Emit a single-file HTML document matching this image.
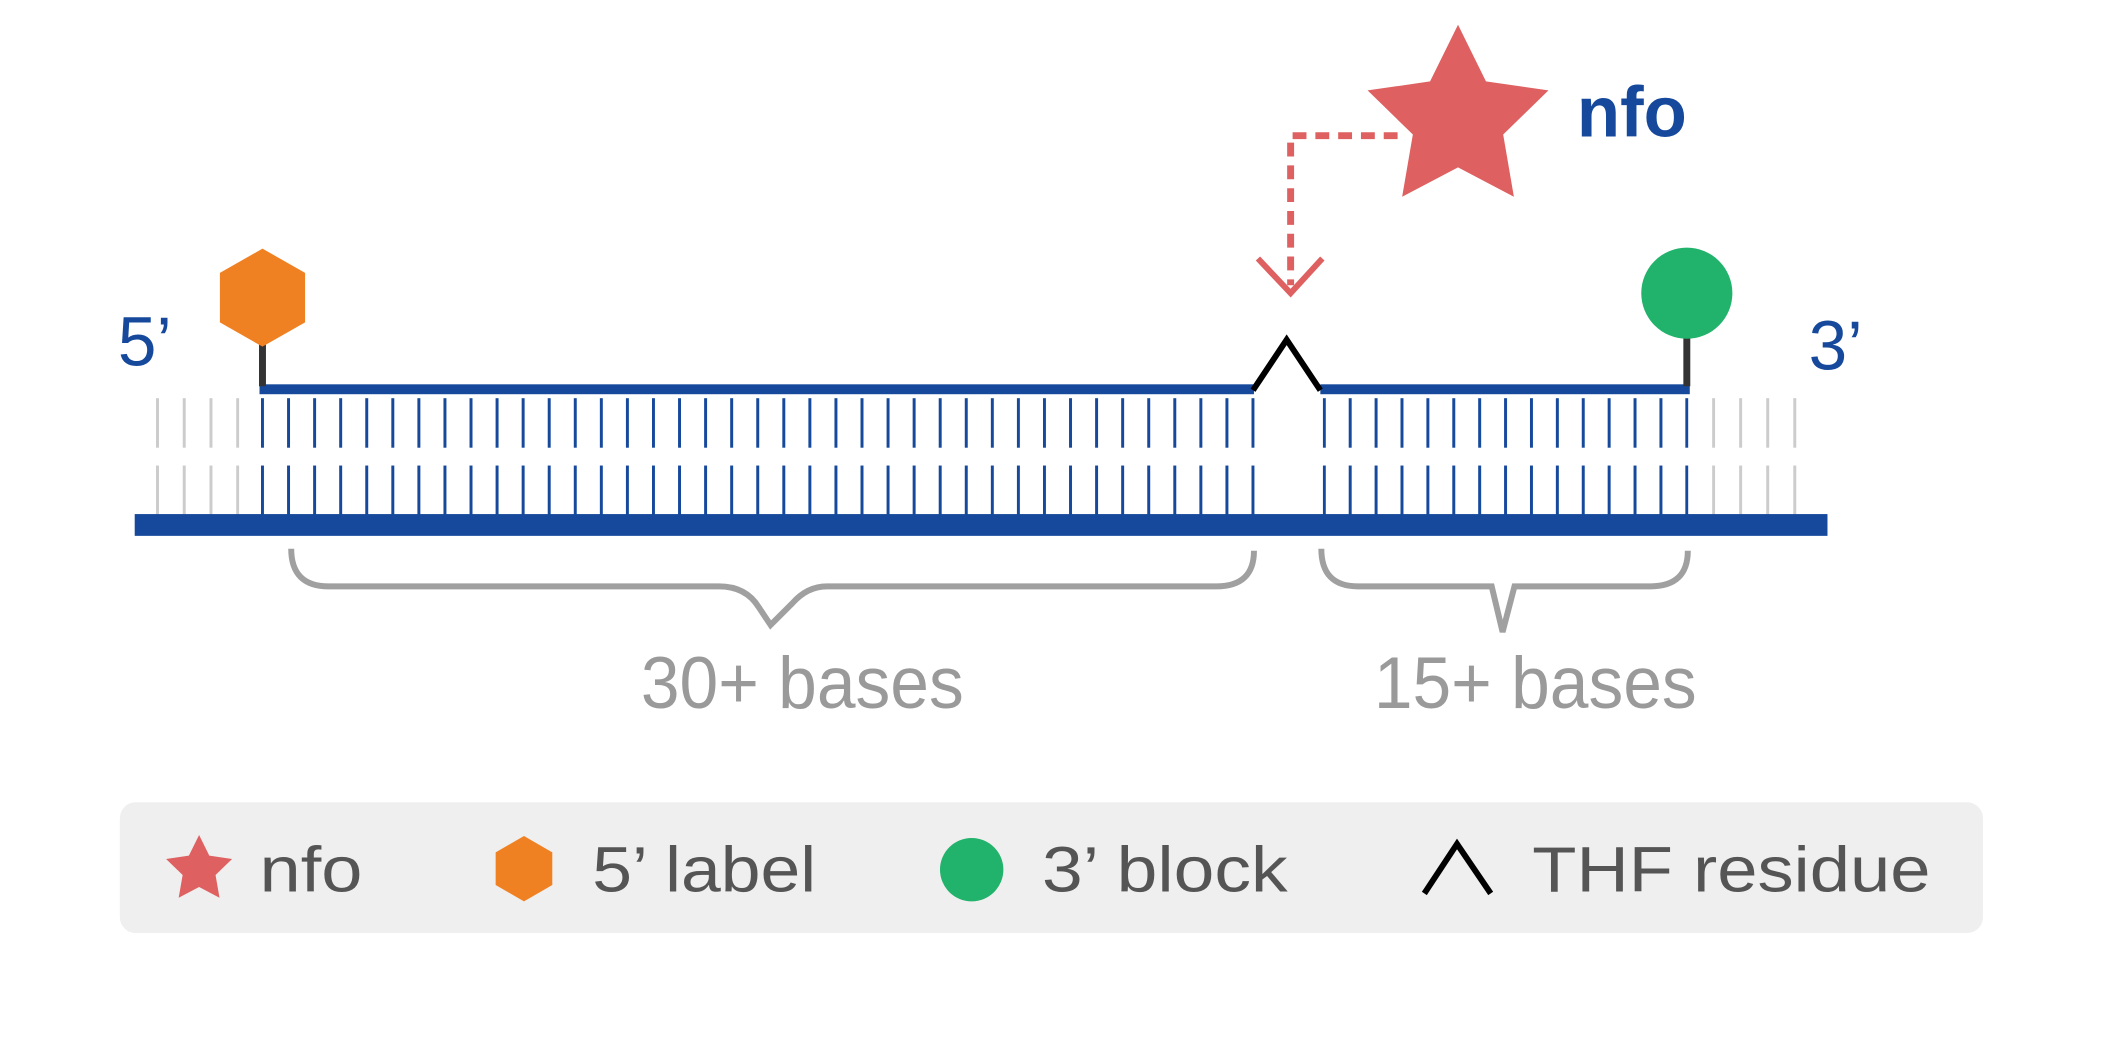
<!DOCTYPE html>
<html><head><meta charset="utf-8"><style>html,body{margin:0;padding:0;background:#fff}svg{display:block}</style></head>
<body>
<svg width="2107" height="1062" viewBox="0 0 2107 1062" xmlns="http://www.w3.org/2000/svg">
<defs>
<pattern id="pl" patternUnits="userSpaceOnUse" x="263.5" y="0" width="26.316" height="1062"><rect x="0" y="0" width="3" height="1062" fill="#16499c"/></pattern>
<pattern id="pr" patternUnits="userSpaceOnUse" x="1335.5" y="0" width="26.143" height="1062"><rect x="0" y="0" width="3" height="1062" fill="#16499c"/></pattern>
<pattern id="gl" patternUnits="userSpaceOnUse" x="157.5" y="0" width="27" height="1062"><rect x="0" y="0" width="3" height="1062" fill="#cccccc"/></pattern>
<pattern id="gr" patternUnits="userSpaceOnUse" x="1728.5" y="0" width="27.33" height="1062"><rect x="0" y="0" width="3" height="1062" fill="#cccccc"/></pattern>
</defs>
<g transform="scale(0.9905)">
<rect x="263.5" y="402" width="1003" height="50" fill="url(#pl)"/>
<rect x="263.5" y="470" width="1003" height="50" fill="url(#pl)"/>
<rect x="1335.5" y="402" width="369" height="50" fill="url(#pr)"/>
<rect x="1335.5" y="470" width="369" height="50" fill="url(#pr)"/>
<rect x="157.5" y="402" width="84" height="50" fill="url(#gl)"/>
<rect x="157.5" y="470" width="84" height="50" fill="url(#gl)"/>
<rect x="1728.5" y="402" width="86" height="50" fill="url(#gr)"/>
<rect x="1728.5" y="470" width="86" height="50" fill="url(#gr)"/>
<rect x="136" y="519" width="1709" height="22" fill="#16499c"/>
<rect x="262" y="388" width="1004" height="10" fill="#16499c"/>
<rect x="1333" y="388" width="373" height="10" fill="#16499c"/>
<polyline points="1265,394 1299,343 1333,394" fill="none" stroke="#000" stroke-width="6"/>
<line x1="265" y1="345" x2="265" y2="390" stroke="#333" stroke-width="7"/>
<line x1="1703" y1="335" x2="1703" y2="390" stroke="#333" stroke-width="7"/>
<polygon points="265,251 308,275.5 308,325.5 265,350 222,325.5 222,275.5" fill="#f08122"/>
<circle cx="1703" cy="296" r="46" fill="#21b36b"/>
<text x="119" y="369" font-family="Liberation Sans, sans-serif" font-size="70" fill="#16499c">5’</text>
<text x="1826" y="373" font-family="Liberation Sans, sans-serif" font-size="70" fill="#16499c">3’</text>
<polygon fill="#de6060" points="1472,25 1500.2,82.2 1563.3,91.3 1517.6,135.8 1528.4,198.7 1472,169 1415.6,198.7 1426.4,135.8 1380.7,91.3 1443.8,82.2"/>
<text x="1592" y="138" textLength="111" lengthAdjust="spacingAndGlyphs" font-family="Liberation Sans, sans-serif" font-size="72" font-weight="bold" fill="#16499c">nfo</text>
<polyline points="1411,137 1303,137 1303,288" fill="none" stroke="#de6060" stroke-width="7" stroke-dasharray="14,9"/>
<polyline points="1270,261 1303,296 1335,261" fill="none" stroke="#de6060" stroke-width="6"/>
<path d="M294,554 Q294,592 332,592 L726,592 Q753,592 766,613 L778,631 L800,609 Q815,592 835,592 L1228,592 Q1266,592 1266,556" fill="none" stroke="#a0a0a0" stroke-width="6"/>
<path d="M1334,554 Q1334,592 1371,592 L1506,592 L1517,638 L1529,592 L1666,592 Q1704,592 1704,556" fill="none" stroke="#a0a0a0" stroke-width="6"/>
<text x="647" y="715" textLength="326" lengthAdjust="spacingAndGlyphs" font-family="Liberation Sans, sans-serif" font-size="74" fill="#9a9a9a">30+ bases</text>
<text x="1387" y="715" textLength="326" lengthAdjust="spacingAndGlyphs" font-family="Liberation Sans, sans-serif" font-size="74" fill="#9a9a9a">15+ bases</text>
<rect x="121" y="810" width="1881" height="132" rx="16" fill="#efefef"/>
<polygon fill="#de6060" points="201,843 211.3,863.8 234.3,867.2 217.6,883.4 221.6,906.3 201,895.5 180.4,906.3 184.4,883.4 167.7,867.2 190.7,863.8"/>
<text x="262" y="900" textLength="104" lengthAdjust="spacingAndGlyphs" font-family="Liberation Sans, sans-serif" font-size="65" fill="#555">nfo</text>
<polygon points="529,844 557.6,860.5 557.6,893.5 529,910 500.4,893.5 500.4,860.5" fill="#f08122"/>
<text x="598" y="900" textLength="226" lengthAdjust="spacingAndGlyphs" font-family="Liberation Sans, sans-serif" font-size="65" fill="#555">5’ label</text>
<circle cx="981" cy="878" r="32" fill="#21b36b"/>
<text x="1052" y="900" textLength="248" lengthAdjust="spacingAndGlyphs" font-family="Liberation Sans, sans-serif" font-size="65" fill="#555">3’ block</text>
<polyline points="1438,902 1471,852 1505,902" fill="none" stroke="#000" stroke-width="6"/>
<text x="1547" y="900" textLength="402" lengthAdjust="spacingAndGlyphs" font-family="Liberation Sans, sans-serif" font-size="65" fill="#555">THF residue</text>
</g>
</svg>
</body></html>
